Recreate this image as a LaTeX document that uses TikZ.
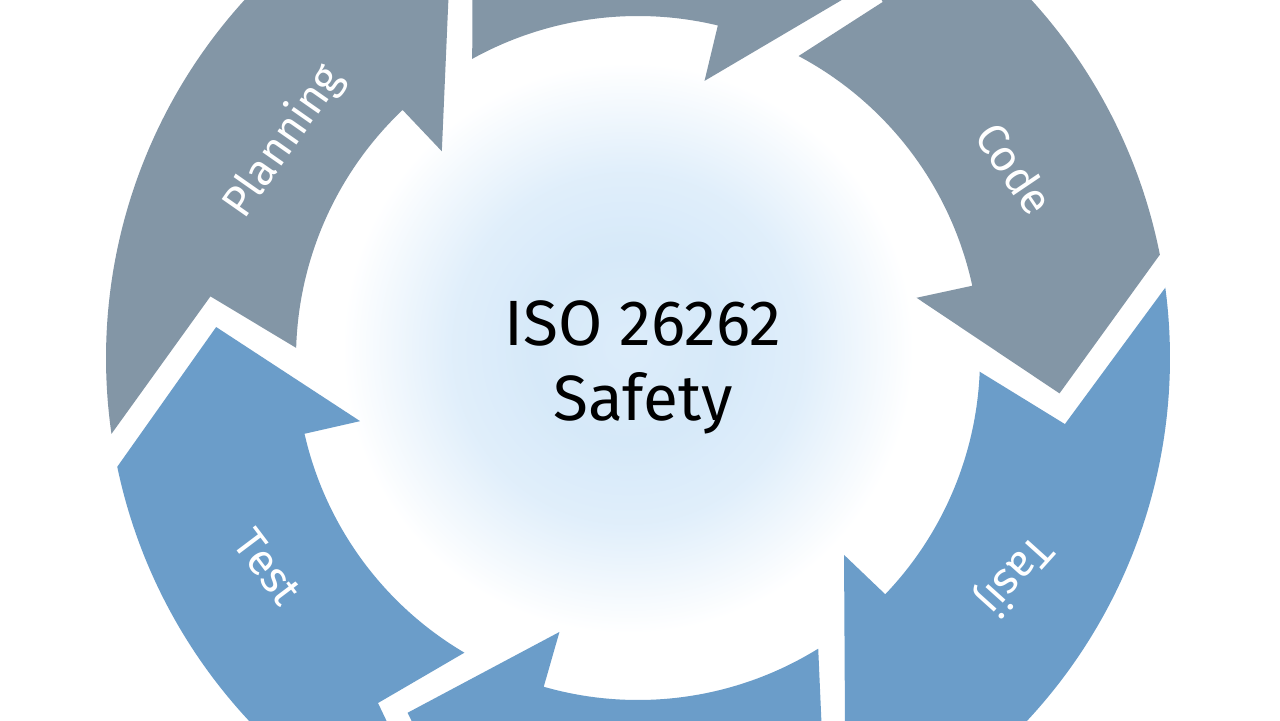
\documentclass[tikz,border=0pt]{standalone}
\usepackage{fontspec}
\setmainfont{Fira Sans}
\usetikzlibrary{calc}
\definecolor{seggray}{HTML}{8396A6}
\definecolor{segblue}{HTML}{6B9DC9}
\definecolor{glowblue}{HTML}{D6E9F9}
\pgfdeclareradialshading{glowshade}{\pgfpoint{0bp}{0bp}}{color(0bp)=(glowblue!85!white); color(7bp)=(glowblue); color(13bp)=(glowblue!75!white); color(21bp)=(white); color(50bp)=(white)}
\begin{document}
\begin{tikzpicture}[x=0.5pt,y=0.5pt,
  seglabel/.style={text=white, font=\fontsize{22}{26}\selectfont},
  centertext/.style={text=black, font=\fontsize{32}{38}\selectfont, anchor=base, inner sep=0pt}]
\useasboundingbox (0,0) rectangle (1280,720);
\fill[white] (0,0) rectangle (1280,720);
\coordinate (C) at (638,362);
\coordinate (G) at (628,372);
\shade[shading=glowshade] (G) circle[radius=170pt];
\foreach \col/\B/\Bp in {seggray/12.2/76.5, seggray/76.5/133.5, seggray/133.5/192.8,
                         segblue/192.8/254, segblue/254/316.3, segblue/316.3/372.2}{
  \fill[\col] ($(C)+(\B-1:266pt)$) -- ($(C)+(\B-17:211.5pt)$) -- ($(C)+(\B:142.5pt)$)
    -- ($(C)+(\B:171pt)$) arc[start angle=\B, end angle=\Bp-14.5, radius=171pt]
    -- ($(C)+(\Bp-21:216pt)$) -- ($(C)+(\Bp-4.6:266pt)$)
    arc[start angle=\Bp-4.6, end angle=\B-1, radius=266pt] -- cycle;
}
\node[seglabel, rotate=55] (planning) at ($(C)+(148.6:207.5pt)$) {Planning};
\node[seglabel, rotate=-56] (code) at ($(C)+(26.7:211pt)$) {Code};
\node[seglabel, rotate=-53] (test) at ($(C)+(209.5:212.5pt)$) {Test};
\node[seglabel, rotate=228] (tasij) at ($(C)+(330:217pt)$) {Tasij};
\node[centertext] (iso) at (643,375) {ISO 26262};
\node[centertext] (safety) at (643,300) {Safety};
\end{tikzpicture}
\end{document}
